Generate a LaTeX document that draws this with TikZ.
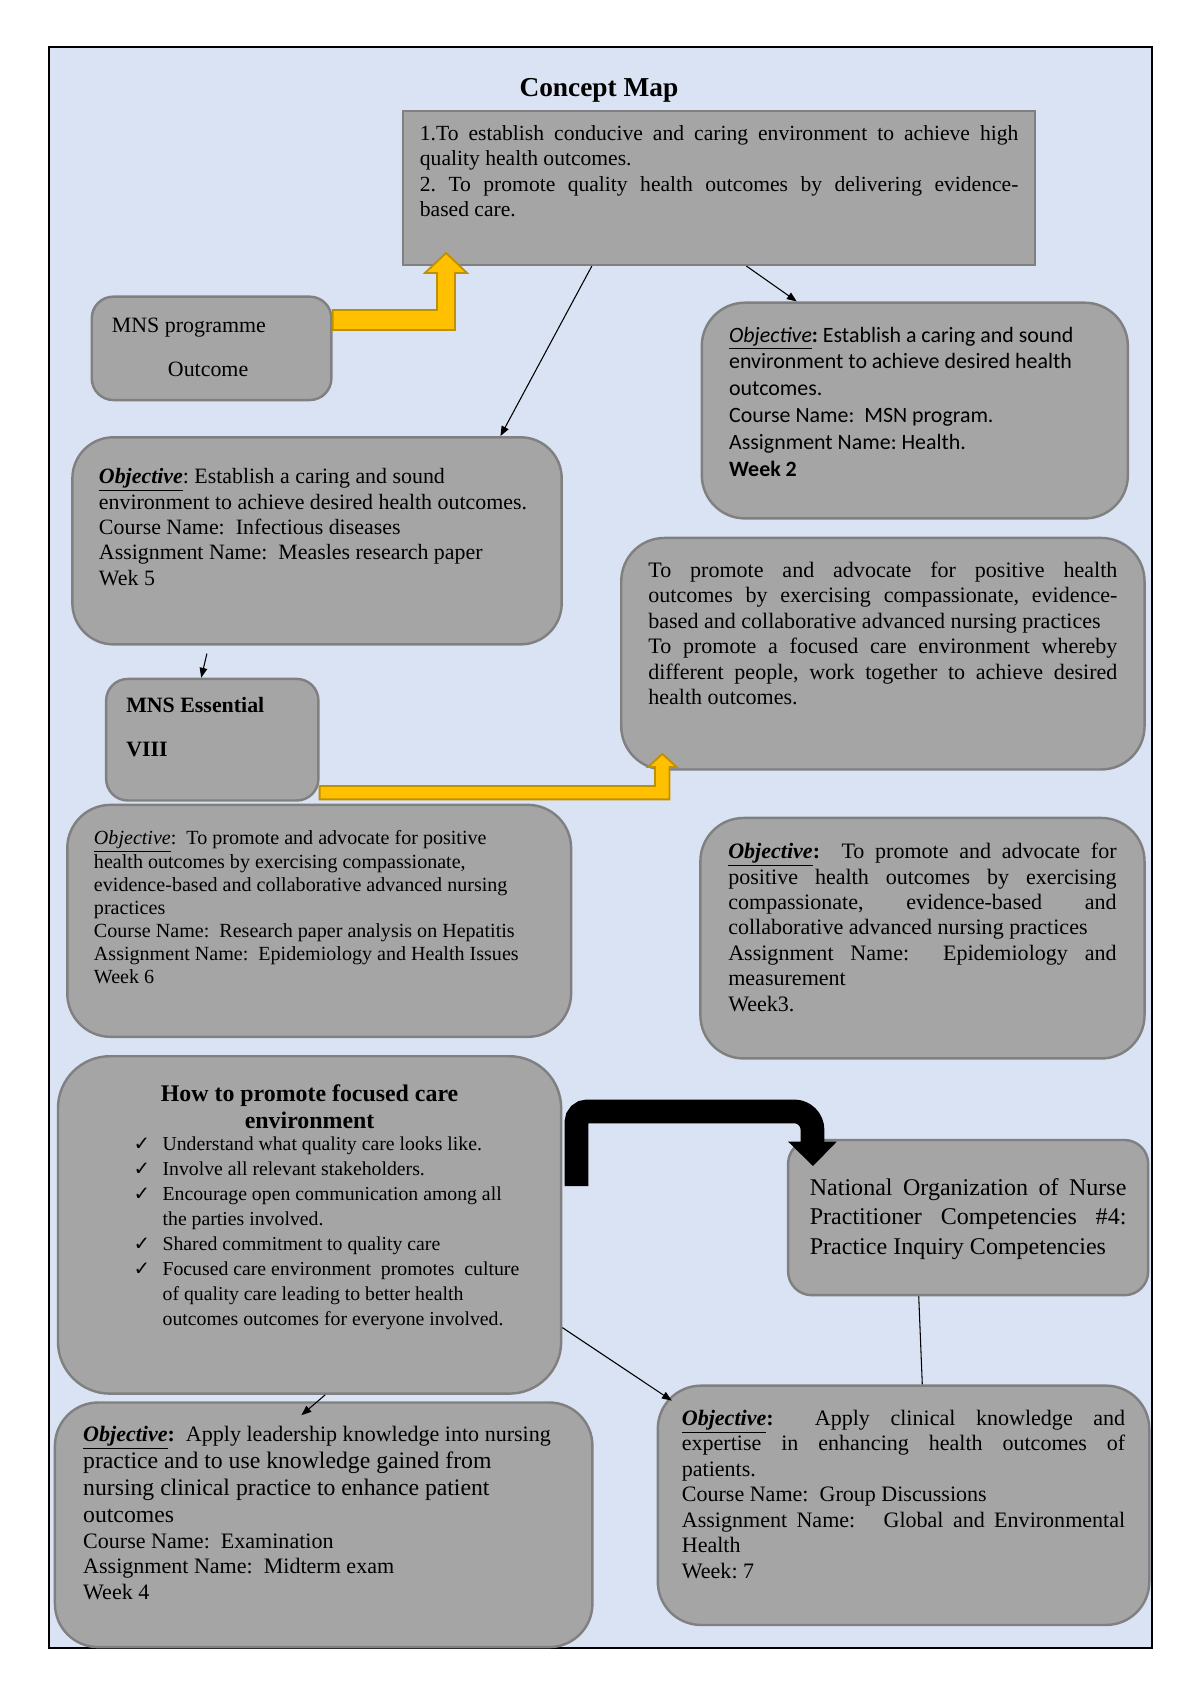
\documentclass[tikz,border=0pt]{standalone}
\usepackage{fontspec}
\setmainfont{Liberation Serif}
\newfontfamily\calibrifont{Carlito}
\newfontfamily\tickfont{DejaVu Sans}
\usetikzlibrary{arrows.meta, positioning}
\definecolor{mapbg}{HTML}{DAE3F3}
\definecolor{boxfill}{HTML}{A5A5A5}
\definecolor{boxline}{HTML}{808080}
\definecolor{gold}{HTML}{FFC000}
\definecolor{golddark}{HTML}{BF9000}
\tikzstyle{frame} = [draw=black, fill=mapbg, line width=1.6pt]
\tikzstyle{box} = [rectangle, rounded corners=10mm, draw=boxline, fill=boxfill, line width=1.6pt, inner sep=0pt]
\tikzstyle{topbox} = [box, sharp corners]
\tikzstyle{link} = [line width=0.7pt, -{Triangle[length=6.5pt,width=5pt]}]
\tikzstyle{goldarrow} = [draw=golddark, fill=gold, line width=1.2pt, line join=miter]
\tikzstyle{blackarrow} = [line width=15.6pt]
\newcommand{\boxtext}[3]{\begin{minipage}[c][#2mm][t]{#1mm}\raggedright #3\end{minipage}}
\newcommand{\jline}[1]{\makebox[\linewidth][s]{#1}}
\newcommand{\tick}[1]{\par\hangindent=18.2mm\hangafter=1\hspace*{11.5mm}\makebox[6.675mm][l]{\tickfont ✓}#1\par}

\begin{document}
\frenchspacing
\begin{tikzpicture}[x=0.025cm, y=-0.025cm]
\useasboundingbox (0,0) rectangle (1110,1570.6);

% Frame and title
\draw[frame] (45.3,43.7) rectangle (1065.3,1524.4);
\node[font=\bfseries\fontsize{18}{21}\selectfont] (title) at (554,83.3) {Concept Map};

% Nodes (Boxes)
\node[topbox, inner xsep=3.875mm, inner ysep=3.3mm] (top) at (665.2,173.85) {\boxtext{138.35}{28.975}{\fontsize{14.2}{16.7}\selectfont
\jline{1.To establish conducive and caring environment to achieve high}\\
quality health outcomes.\\
\jline{2. To promote quality health outcomes by delivering evidence-}\\
based care.}};

\node[box, rounded corners=5mm, inner xsep=4.675mm, inner ysep=5mm] (mns) at (195.7,322.2) {\boxtext{46.05}{13.9}{\fontsize{14.4}{28.6}\selectfont
MNS programme\\
\hspace*{12.95mm}Outcome}};

\node[box, inner xsep=6.325mm, inner ysep=5.575mm] (wk2) at (846.2,379.75) {\boxtext{85.85}{38.725}{\calibrifont\fontsize{14.4}{17.65}\selectfont
\underline{\textit{Objective}}\textbf{:} Establish a caring and sound\\
environment to achieve desired health\\
outcomes.\\
Course Name:~ MSN program.\\
Assignment Name: Health.\\
\textbf{Week 2}}};

\node[box, rounded corners=9.5mm, inner xsep=6.15mm, inner ysep=7.2mm] (wk5) at (293.25,500.25) {\boxtext{100.825}{33.475}{\fontsize{14.4}{16.7}\selectfont
\underline{\textbf{\textit{Objective}}}: Establish a caring and sound\\
environment to achieve desired health outcomes.\\
Course Name:~ Infectious diseases\\
Assignment Name:~ Measles research paper\\
Wek 5}};

\node[box, rounded corners=5mm, inner xsep=4.65mm, inner ysep=4.325mm] (ess) at (196.35,684.2) {\boxtext{39.775}{19.45}{\bfseries\fontsize{14.4}{28.7}\selectfont
MNS Essential\\
VIII}};

\node[box, inner xsep=6.2625mm, inner ysep=5.475mm] (promo) at (816.65,604.65) {\boxtext{108.45}{42.575}{\fontsize{14.5}{16.8}\selectfont
\jline{To promote and advocate for positive health}\\
\jline{outcomes by exercising compassionate, evidence-}\\
based and collaborative advanced nursing practices\\
\jline{To promote a focused care environment whereby}\\
\jline{different people, work together to achieve desired}\\
health outcomes.}};

\node[box, inner xsep=6.175mm, inner ysep=6mm] (wk6) at (295.25,851.75) {\boxtext{104.125}{41.625}{\fontsize{13.2}{15.2}\selectfont
\underline{\textit{Objective}}:~ To promote and advocate for positive\\
health outcomes by exercising compassionate,\\
evidence-based and collaborative advanced nursing\\
practices\\
Course Name:~ Research paper analysis on Hepatitis\\
Assignment Name:~ Epidemiology and Health Issues\\
Week 6}};

\node[box, inner xsep=6.45mm, inner ysep=5.825mm] (wk3) at (853.25,867.8) {\boxtext{89.775}{43.95}{\fontsize{14.5}{16.7}\selectfont
\jline{\underline{\textbf{\textit{Objective}}}\textbf{:}~ To promote and advocate for}\\
\jline{positive health outcomes by exercising}\\
\jline{compassionate, evidence-based and}\\
collaborative advanced nursing practices\\
\jline{Assignment Name:~ Epidemiology and}\\
measurement\\
Week3.}};

\node[box, rounded corners=12mm, inner xsep=6mm, inner ysep=6.575mm] (how) at (286.35,1133) {\boxtext{104.325}{64.85}{%
{\centering\bfseries\fontsize{15.7}{18.1}\selectfont How to promote focused care\\ environment\par}
\vspace{-0.7mm}
\fontsize{13}{16.4}\selectfont
\tick{Understand what quality care looks like.}
\tick{Involve all relevant stakeholders.}
\tick{Encourage open communication among all\newline the parties involved.}
\tick{Shared commitment to quality care}
\tick{Focused care environment~ promotes~ culture\newline of quality care leading to better health\newline outcomes outcomes for everyone involved.}}};

\node[box, rounded corners=5.5mm, inner xsep=5.0375mm, inner ysep=8.875mm] (nat) at (895.5,1126.25) {\boxtext{73.175}{18.125}{\fontsize{15.8}{19.4}\selectfont
\jline{National Organization of Nurse}\\
\jline{Practitioner Competencies \#4:}\\
Practice Inquiry Competencies}};

\node[box, inner xsep=6.525mm, inner ysep=5.5mm] (wk4) at (299.4,1410.4) {\boxtext{111.2}{45.55}{%
{\fontsize{14.5}{17.8}\selectfont \underline{\textbf{\textit{Objective}}}\textbf{:}~ Apply leadership knowledge into nursing\par}
{\fontsize{15.6}{17.8}\selectfont practice and to use knowledge gained from\\ nursing clinical practice to enhance patient\\ outcomes\par}
{\fontsize{14.5}{16.8}\selectfont Course Name:~ Examination\\ Assignment Name:~ Midterm exam\\ Week 4\par}}};

\node[box, inner xsep=5.5625mm, inner ysep=5.65mm] (wk7) at (835.75,1392.35) {\boxtext{102.5}{44.025}{\fontsize{14.5}{16.75}\selectfont
\jline{\underline{\textbf{\textit{Objective}}}\textbf{:}~ Apply clinical knowledge and}\\
\jline{expertise in enhancing health outcomes of}\\
patients.\\
Course Name:~ Group Discussions\\
\jline{Assignment Name:~~ Global and Environmental}\\
Health\\
Week: 7}};

% Free ends of connectors
\coordinate (essin) at (191.4,604.5);
\coordinate (wk4in) at (278.8,1309);
\coordinate (wk7in) at (621.4,1295.5);
\coordinate (blkstart) at (533.2,1097);
\coordinate (blkend) at (751.5,1058);

% Arrows (Connections)
\draw[link] (547.4,0 |- top.south) -- (462.9,0 |- wk5.north);
\draw[link] (690.5,0 |- top.south) -- (737,0 |- wk2.north);
\draw[link] (essin) -- (186.1,0 |- ess.north);
\draw[link] (300.8,0 |- how.south) -- (wk4in);
\draw[link] (how.east |- 0,1228) -- (wk7in);
\draw[line width=0.7pt] (849.8,0 |- nat.south) -- (853.1,0 |- wk7.north);

% Block arrows
\draw[goldarrow] (mns.east |- 0,286.8) -- (404.2,286.8) -- (404.2,252.5) -- (393.1,252.5) -- (412.6,234) -- (432,252.5) -- (420.9,252.5) -- (420.9,305.3) -- (mns.east |- 0,305.3) -- cycle;
\draw[goldarrow] (ess.east |- 0,727) -- (605.9,727) -- (605.9,709.5) -- (599.4,709.5) -- (612.6,697.4) -- (626,709.5) -- (619.3,709.5) -- (619.3,739.4) -- (ess.east |- 0,739.4) -- cycle;
\draw[blackarrow] (blkstart) -- (533.2,1038) arc(180:270:10) -- (734.5,1028) arc(270:360:17) -- (blkend);
\fill (729,1056) -- (774,1056) -- (752,1078.5) -- cycle;

\end{tikzpicture}
\end{document}
